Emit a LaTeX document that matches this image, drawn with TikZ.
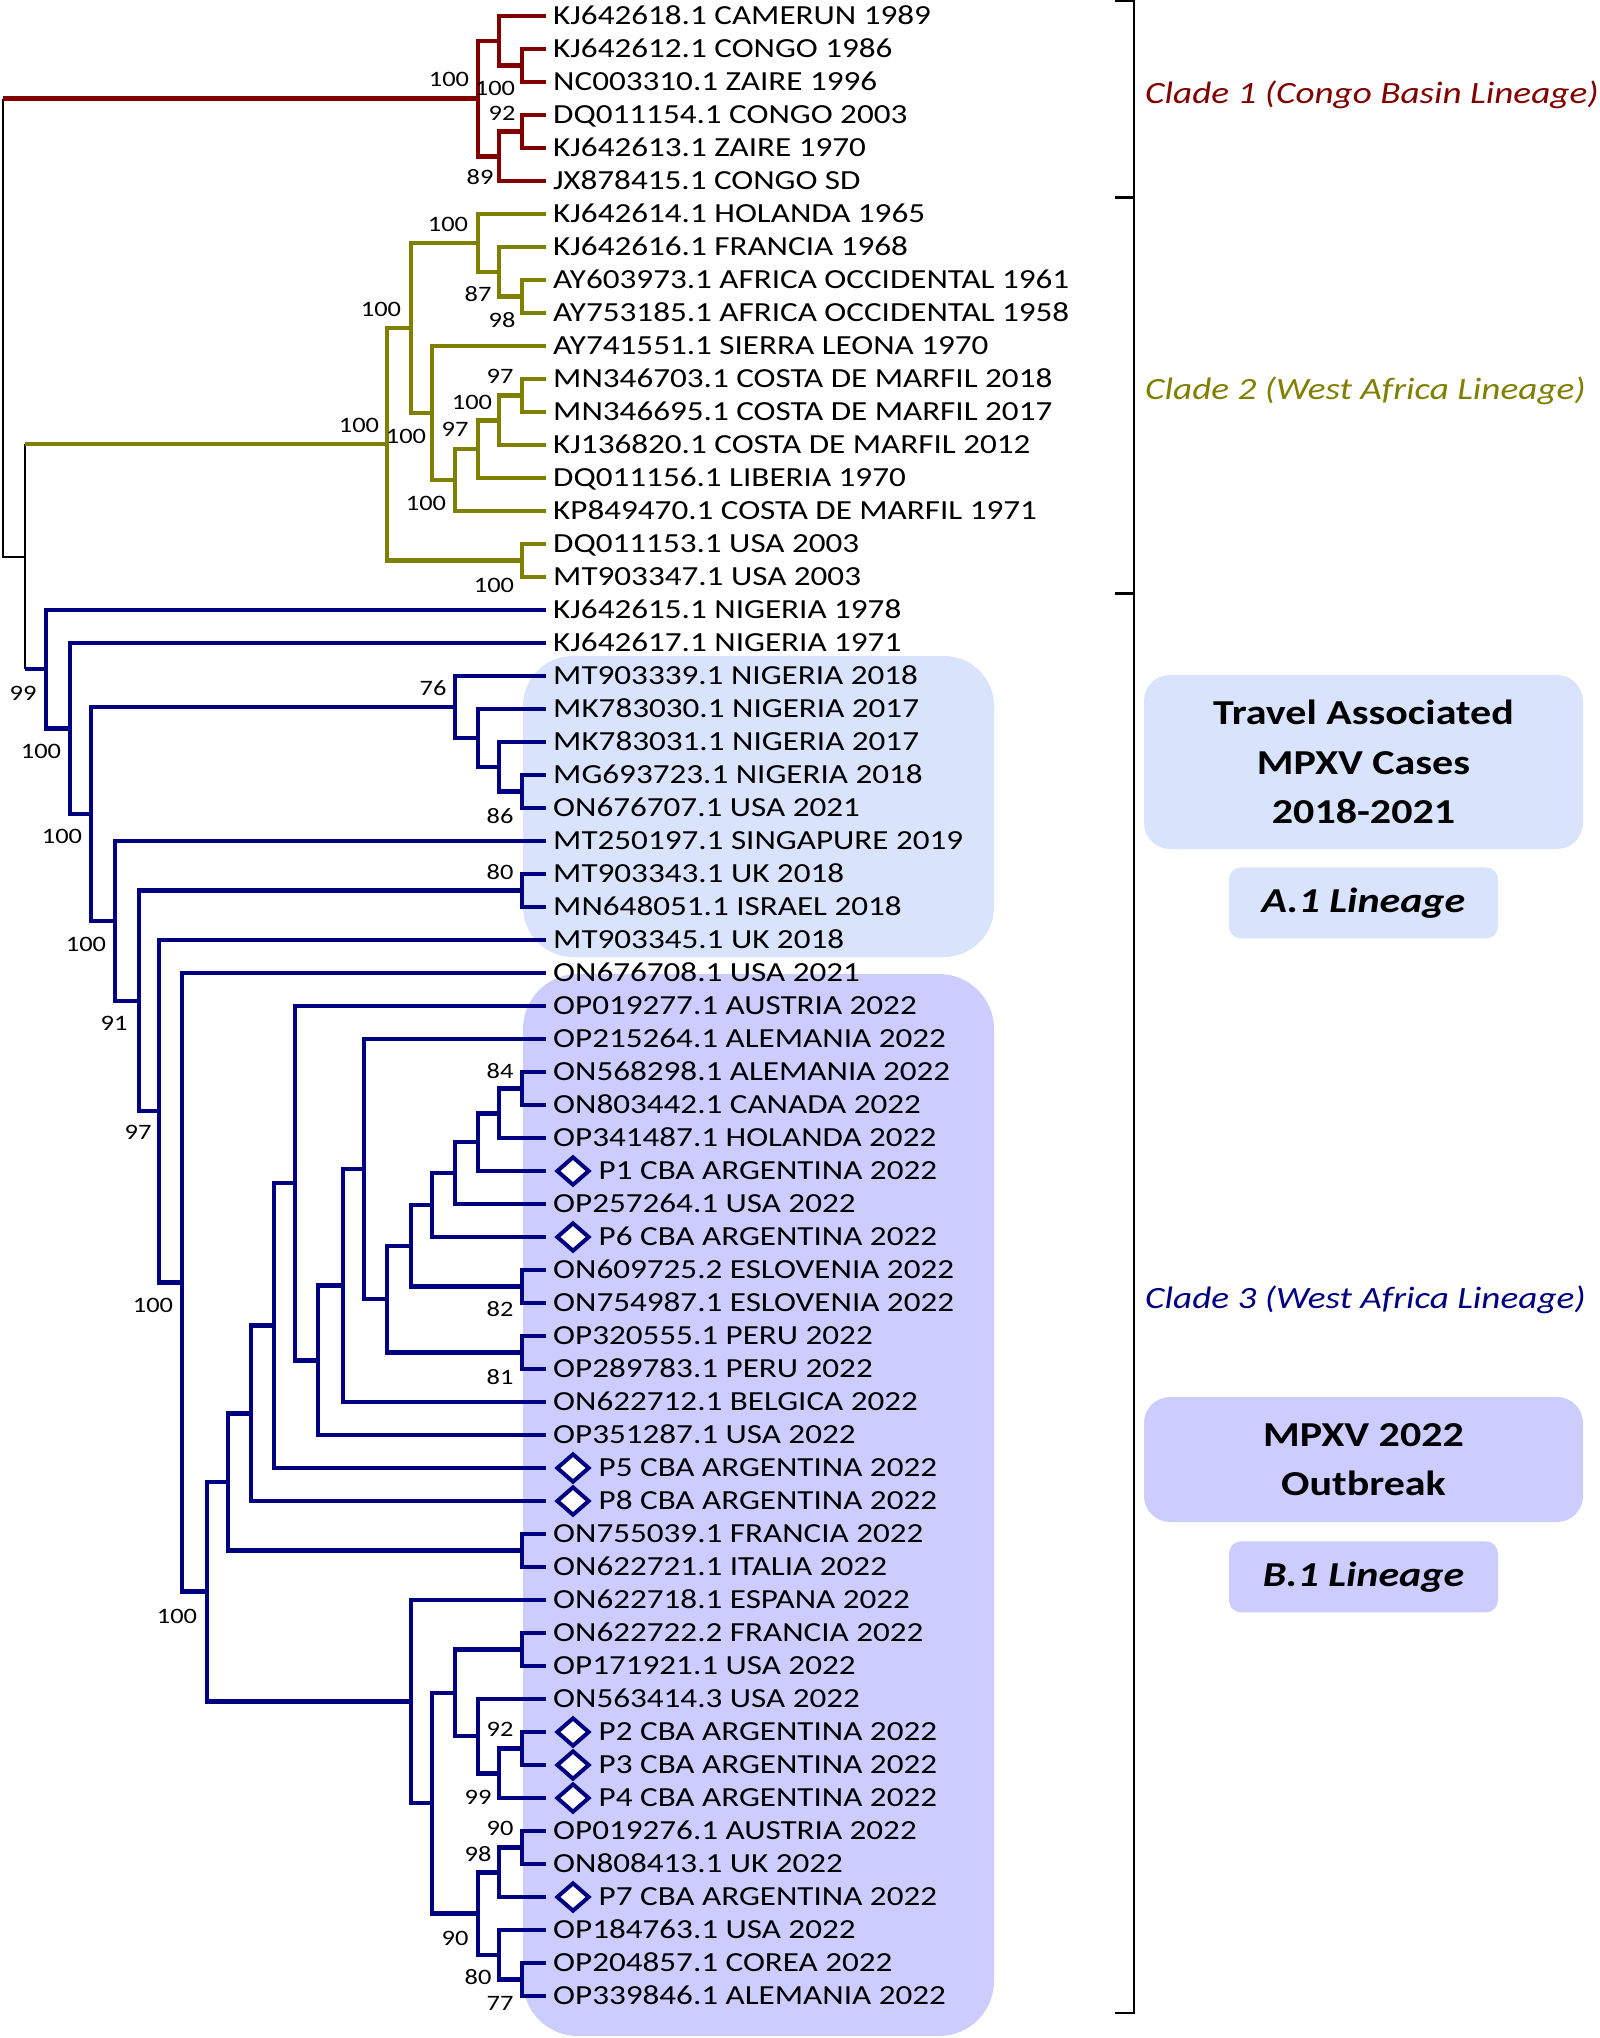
\documentclass[tikz,border=0pt]{standalone}
\usepackage{fontspec}
\setmainfont{Carlito}[FakeStretch=1.2]
\usetikzlibrary{positioning, shapes.geometric}
\definecolor{congo}{RGB}{128,0,0}
\definecolor{westaf}{RGB}{128,128,0}
\definecolor{navyc}{RGB}{0,0,128}
\definecolor{travelbg}{RGB}{218,227,252}
\definecolor{outbreakbg}{RGB}{204,204,255}

\begin{document}
\begin{tikzpicture}[
  x=1pt, y=-1pt,
  leaf/.style={anchor=west, inner xsep=7pt, inner ysep=0pt,
    text height=17.8pt, text depth=0pt, font=\fontsize{27.6}{30}\selectfont},
  sample/.style={diamond, draw=navyc, fill=white, line width=4pt,
    minimum width=33pt, minimum height=29pt, inner sep=0pt},
  boot/.style={inner sep=0pt, font=\fontsize{22}{24}\selectfont},
  clade/.style={anchor=west, inner sep=0pt, font=\fontsize{31}{34}\selectfont\itshape},
  panel/.style={rounded corners=26pt, align=center, inner sep=0pt,
    minimum width=439pt, font=\fontsize{35}{49.5}\selectfont\bfseries},
  tagbox/.style={rounded corners=12pt, inner sep=0pt, minimum width=269pt,
    minimum height=71pt, font=\fontsize{35}{40}\selectfont\bfseries\itshape},
  congoline/.style={draw=congo, line width=4.5pt},
  westline/.style={draw=westaf, line width=4.5pt},
  navyline/.style={draw=navyc, line width=4.5pt},
  rootline/.style={draw=black, line width=2pt},
  bracket/.style={draw=black, line width=2.5pt},
  tomark/.style={shorten >=9pt}
]
\useasboundingbox (0,0) rectangle (1600,2038);

\fill[travelbg, rounded corners=50pt] (523,656) rectangle (994,957);
\fill[outbreakbg, rounded corners=55pt] (523,974) rectangle (994,2036);

\node[leaf] (l1) at (546,16) {KJ642618.1 CAMERUN 1989};
\node[leaf] (l2) at (546,49) {KJ642612.1 CONGO 1986};
\node[leaf] (l3) at (546,82) {NC003310.1 ZAIRE 1996};
\node[leaf] (l4) at (546,115) {DQ011154.1 CONGO 2003};
\node[leaf] (l5) at (546,148) {KJ642613.1 ZAIRE 1970};
\node[leaf] (l6) at (546,181) {JX878415.1 CONGO SD};
\node[leaf] (l7) at (546,214) {KJ642614.1 HOLANDA 1965};
\node[leaf] (l8) at (546,247) {KJ642616.1 FRANCIA 1968};
\node[leaf] (l9) at (546,280) {AY603973.1 AFRICA OCCIDENTAL 1961};
\node[leaf] (l10) at (546,313) {AY753185.1 AFRICA OCCIDENTAL 1958};
\node[leaf] (l11) at (546,346) {AY741551.1 SIERRA LEONA 1970};
\node[leaf] (l12) at (546,379) {MN346703.1 COSTA DE MARFIL 2018};
\node[leaf] (l13) at (546,412) {MN346695.1 COSTA DE MARFIL 2017};
\node[leaf] (l14) at (546,445) {KJ136820.1 COSTA DE MARFIL 2012};
\node[leaf] (l15) at (546,478) {DQ011156.1 LIBERIA 1970};
\node[leaf] (l16) at (546,511) {KP849470.1 COSTA DE MARFIL 1971};
\node[leaf] (l17) at (546,544) {DQ011153.1 USA 2003};
\node[leaf] (l18) at (546,577) {MT903347.1 USA 2003};
\node[leaf] (l19) at (546,610) {KJ642615.1 NIGERIA 1978};
\node[leaf] (l20) at (546,643) {KJ642617.1 NIGERIA 1971};
\node[leaf] (l21) at (546,676) {MT903339.1 NIGERIA 2018};
\node[leaf] (l22) at (546,709) {MK783030.1 NIGERIA 2017};
\node[leaf] (l23) at (546,742) {MK783031.1 NIGERIA 2017};
\node[leaf] (l24) at (546,775) {MG693723.1 NIGERIA 2018};
\node[leaf] (l25) at (546,808) {ON676707.1 USA 2021};
\node[leaf] (l26) at (546,841) {MT250197.1 SINGAPURE 2019};
\node[leaf] (l27) at (546,874) {MT903343.1 UK 2018};
\node[leaf] (l28) at (546,907) {MN648051.1 ISRAEL 2018};
\node[leaf] (l29) at (546,940) {MT903345.1 UK 2018};
\node[leaf] (l30) at (546,973) {ON676708.1 USA 2021};
\node[leaf] (l31) at (546,1006) {OP019277.1 AUSTRIA 2022};
\node[leaf] (l32) at (546,1039) {OP215264.1 ALEMANIA 2022};
\node[leaf] (l33) at (546,1072) {ON568298.1 ALEMANIA 2022};
\node[leaf] (l34) at (546,1105) {ON803442.1 CANADA 2022};
\node[leaf] (l35) at (546,1138) {OP341487.1 HOLANDA 2022};
\node[sample] (d36) at (573,1171) {};
\node[leaf, right=0pt of d36] (l36) {P1 CBA ARGENTINA 2022};
\node[leaf] (l37) at (546,1204) {OP257264.1 USA 2022};
\node[sample] (d38) at (573,1237) {};
\node[leaf, right=0pt of d38] (l38) {P6 CBA ARGENTINA 2022};
\node[leaf] (l39) at (546,1270) {ON609725.2 ESLOVENIA 2022};
\node[leaf] (l40) at (546,1303) {ON754987.1 ESLOVENIA 2022};
\node[leaf] (l41) at (546,1336) {OP320555.1 PERU 2022};
\node[leaf] (l42) at (546,1369) {OP289783.1 PERU 2022};
\node[leaf] (l43) at (546,1402) {ON622712.1 BELGICA 2022};
\node[leaf] (l44) at (546,1435) {OP351287.1 USA 2022};
\node[sample] (d45) at (573,1468) {};
\node[leaf, right=0pt of d45] (l45) {P5 CBA ARGENTINA 2022};
\node[sample] (d46) at (573,1501) {};
\node[leaf, right=0pt of d46] (l46) {P8 CBA ARGENTINA 2022};
\node[leaf] (l47) at (546,1534) {ON755039.1 FRANCIA 2022};
\node[leaf] (l48) at (546,1567) {ON622721.1 ITALIA 2022};
\node[leaf] (l49) at (546,1600) {ON622718.1 ESPANA 2022};
\node[leaf] (l50) at (546,1633) {ON622722.2 FRANCIA 2022};
\node[leaf] (l51) at (546,1666) {OP171921.1 USA 2022};
\node[leaf] (l52) at (546,1699) {ON563414.3 USA 2022};
\node[sample] (d53) at (573,1732) {};
\node[leaf, right=0pt of d53] (l53) {P2 CBA ARGENTINA 2022};
\node[sample] (d54) at (573,1765) {};
\node[leaf, right=0pt of d54] (l54) {P3 CBA ARGENTINA 2022};
\node[sample] (d55) at (573,1798) {};
\node[leaf, right=0pt of d55] (l55) {P4 CBA ARGENTINA 2022};
\node[leaf] (l56) at (546,1831) {OP019276.1 AUSTRIA 2022};
\node[leaf] (l57) at (546,1864) {ON808413.1 UK 2022};
\node[sample] (d58) at (573,1897) {};
\node[leaf, right=0pt of d58] (l58) {P7 CBA ARGENTINA 2022};
\node[leaf] (l59) at (546,1930) {OP184763.1 USA 2022};
\node[leaf] (l60) at (546,1963) {OP204857.1 COREA 2022};
\node[leaf] (l61) at (546,1996) {OP339846.1 ALEMANIA 2022};

\coordinate (r0) at (3,327.6);
\coordinate (r1) at (25,556.7);
\coordinate (c1) at (478,98.5);
\coordinate (c1a) at (499,40.8);
\coordinate (c1b) at (522,65.5);
\coordinate (c1c) at (499,156.3);
\coordinate (c1d) at (522,131.5);
\coordinate (c2) at (387,444.2);
\coordinate (c2b) at (411,328);
\coordinate (c2c) at (432,413);
\coordinate (c2d) at (478,242.9);
\coordinate (c2e) at (499,271.8);
\coordinate (c2f) at (522,296.5);
\coordinate (c2g) at (455,480.1);
\coordinate (c2h) at (478,449.1);
\coordinate (c2i) at (499,420.3);
\coordinate (c2j) at (522,395.5);
\coordinate (c2k) at (522,560.5);
\coordinate (b0) at (46,669.2);
\coordinate (b1) at (70,728.5);
\coordinate (b2) at (91,813.9);
\coordinate (b3) at (455,706.9);
\coordinate (b4) at (115,920.9);
\coordinate (b5) at (478,737.9);
\coordinate (b6) at (499,766.8);
\coordinate (b7) at (522,791.5);
\coordinate (b8) at (139,1000.8);
\coordinate (b9) at (522,890.5);
\coordinate (b10) at (159,1111.2);
\coordinate (b11) at (182,1282.4);
\coordinate (b12) at (207,1591.7);
\coordinate (b13) at (228,1481.9);
\coordinate (b16) at (522,1550.5);
\coordinate (b17) at (251,1413.3);
\coordinate (b18) at (274,1325.6);
\coordinate (b19) at (295,1183.1);
\coordinate (b20) at (318,1360.3);
\coordinate (b21) at (343,1285.5);
\coordinate (b22) at (364,1169.1);
\coordinate (b23) at (387,1299.1);
\coordinate (b24) at (411,1245.8);
\coordinate (b25) at (522,1352.5);
\coordinate (b26) at (432,1205);
\coordinate (b27) at (522,1286.5);
\coordinate (b28) at (455,1173.1);
\coordinate (b29) at (478,1142.1);
\coordinate (b30) at (499,1113.3);
\coordinate (b31) at (522,1088.5);
\coordinate (b32) at (411,1701.6);
\coordinate (b33) at (432,1803.2);
\coordinate (b34) at (455,1692.8);
\coordinate (b35) at (522,1649.5);
\coordinate (b36) at (478,1736.1);
\coordinate (b37) at (499,1773.3);
\coordinate (b38) at (522,1748.5);
\coordinate (b39) at (478,1913.5);
\coordinate (b40) at (499,1872.3);
\coordinate (b41) at (522,1847.5);
\coordinate (b42) at (499,1954.8);
\coordinate (b43) at (522,1979.5);

\draw[rootline] (c1 -| r0) |- (r1);
\draw[rootline] (c2 -| r1) -- (b0 -| r1);
\draw[congoline] (c1) -- (c1 -| r0);
\draw[westline] (c2 -| r1) -- (c2);
\draw[navyline] (b0 -| r1) -- (b0);

\draw[congoline] (l2.west) -| (c1b) |- (l3.west);
\draw[congoline] (l1.west) -| (c1a) |- (c1b);
\draw[congoline] (l4.west) -| (c1d) |- (l5.west);
\draw[congoline] (c1d) -| (c1c) |- (l6.west);
\draw[congoline] (c1a) -| (c1) |- (c1c);

\draw[westline] (l9.west) -| (c2f) |- (l10.west);
\draw[westline] (l8.west) -| (c2e) |- (c2f);
\draw[westline] (l7.west) -| (c2d) |- (c2e);
\draw[westline] (l12.west) -| (c2j) |- (l13.west);
\draw[westline] (c2j) -| (c2i) |- (l14.west);
\draw[westline] (c2i) -| (c2h) |- (l15.west);
\draw[westline] (c2h) -| (c2g) |- (l16.west);
\draw[westline] (l11.west) -| (c2c) |- (c2g);
\draw[westline] (c2d) -| (c2b) |- (c2c);
\draw[westline] (l17.west) -| (c2k) |- (l18.west);
\draw[westline] (c2b) -| (c2) |- (c2k);

\draw[navyline] (l19.west) -| (b0) |- (b1);
\draw[navyline] (l20.west) -| (b1) |- (b2);
\draw[navyline] (b3) -| (b2) |- (b4);
\draw[navyline] (l21.west) -| (b3) |- (b5);
\draw[navyline] (l22.west) -| (b5) |- (b6);
\draw[navyline] (l23.west) -| (b6) |- (b7);
\draw[navyline] (l24.west) -| (b7) |- (l25.west);
\draw[navyline] (l26.west) -| (b4) |- (b8);
\draw[navyline] (b9) -| (b8) |- (b10);
\draw[navyline] (l27.west) -| (b9) |- (l28.west);
\draw[navyline] (l29.west) -| (b10) |- (b11);
\draw[navyline] (l30.west) -| (b11) |- (b12);
\draw[navyline] (b13) -| (b12) |- (b32);
\draw[navyline] (b17) -| (b13) |- (b16);
\draw[navyline] (l47.west) -| (b16) |- (l48.west);
\draw[navyline, tomark] (b18) -| (b17) |- (d46.west);
\draw[navyline, tomark] (b19) -| (b18) |- (d45.west);
\draw[navyline] (l31.west) -| (b19) |- (b20);
\draw[navyline] (b21) -| (b20) |- (l44.west);
\draw[navyline] (b22) -| (b21) |- (l43.west);
\draw[navyline] (l32.west) -| (b22) |- (b23);
\draw[navyline] (b24) -| (b23) |- (b25);
\draw[navyline] (l41.west) -| (b25) |- (l42.west);
\draw[navyline] (b26) -| (b24) |- (b27);
\draw[navyline] (l39.west) -| (b27) |- (l40.west);
\draw[navyline, tomark] (b28) -| (b26) |- (d38.west);
\draw[navyline] (b29) -| (b28) |- (l37.west);
\draw[navyline, tomark] (b30) -| (b29) |- (d36.west);
\draw[navyline] (b31) -| (b30) |- (l35.west);
\draw[navyline] (l33.west) -| (b31) |- (l34.west);
\draw[navyline] (l49.west) -| (b32) |- (b33);
\draw[navyline] (b34) -| (b33) |- (b39);
\draw[navyline] (b35) -| (b34) |- (b36);
\draw[navyline] (l50.west) -| (b35) |- (l51.west);
\draw[navyline] (l52.west) -| (b36) |- (b37);
\draw[navyline, tomark] (b38) -| (b37) |- (d55.west);
\draw[navyline, shorten <=9pt, tomark] (d53.west) -| (b38) |- (d54.west);
\draw[navyline] (b40) -| (b39) |- (b42);
\draw[navyline, tomark] (b41) -| (b40) |- (d58.west);
\draw[navyline] (l56.west) -| (b41) |- (l57.west);
\draw[navyline] (l59.west) -| (b42) |- (b43);
\draw[navyline] (l60.west) -| (b43) |- (l61.west);

\node[boot] (s1) at (449,79) {100};
\node[boot] (s2) at (495,88) {100};
\node[boot] (s3) at (502,113) {92};
\node[boot] (s4) at (480,177) {89};
\node[boot] (s5) at (448,224) {100};
\node[boot] (s6) at (478,294) {87};
\node[boot] (s7) at (502,320) {98};
\node[boot] (s8) at (381,309) {100};
\node[boot] (s9) at (500,376) {97};
\node[boot] (s10) at (472,402) {100};
\node[boot] (s11) at (455,429) {97};
\node[boot] (s12) at (359,425) {100};
\node[boot] (s13) at (406,436) {100};
\node[boot] (s14) at (426,503) {100};
\node[boot] (s15) at (494,585) {100};
\node[boot] (s16) at (23,693) {99};
\node[boot] (s17) at (41,751) {100};
\node[boot] (s18) at (62,836) {100};
\node[boot] (s19) at (433,688) {76};
\node[boot] (s20) at (500,816) {86};
\node[boot] (s21) at (500,872) {80};
\node[boot] (s22) at (86,944) {100};
\node[boot] (s23) at (114,1023) {91};
\node[boot] (s24) at (138,1132) {97};
\node[boot] (s25) at (153,1305) {100};
\node[boot] (s26) at (500,1071) {84};
\node[boot] (s27) at (500,1309) {82};
\node[boot] (s28) at (500,1377) {81};
\node[boot] (s29) at (177,1616) {100};
\node[boot] (s30) at (500,1729) {92};
\node[boot] (s31) at (478,1797) {99};
\node[boot] (s32) at (500,1828) {90};
\node[boot] (s33) at (478,1854) {98};
\node[boot] (s34) at (455,1938) {90};
\node[boot] (s35) at (478,1977) {80};
\node[boot] (s36) at (500,2003) {77};

\draw[bracket] (1115,1) -- (1134,1) -- (1134,2013) -- (1115,2013);
\draw[bracket] (1115,197.5) -- (1134,197.5);
\draw[bracket] (1115,593.5) -- (1134,593.5);

\node[clade, text=congo] (cl1) at (1145,95) {Clade 1 (Congo Basin Lineage)};
\node[clade, text=westaf] (cl2) at (1145,391) {Clade 2 (West Africa Lineage)};
\node[clade, text=navyc] (cl3) at (1145,1300) {Clade 3 (West Africa Lineage)};

\node[panel, fill=travelbg, minimum height=174pt] (travel) at (1363.5,762) {Travel Associated\\MPXV Cases\\2018-2021};
\node[tagbox, fill=travelbg, below=18pt of travel] (lineA) {A.1 Lineage};
\node[panel, fill=outbreakbg, minimum height=125pt] (outbreak) at (1363.5,1459.5) {MPXV 2022\\Outbreak};
\node[tagbox, fill=outbreakbg, below=19pt of outbreak] (lineB) {B.1 Lineage};

\end{tikzpicture}
\end{document}
